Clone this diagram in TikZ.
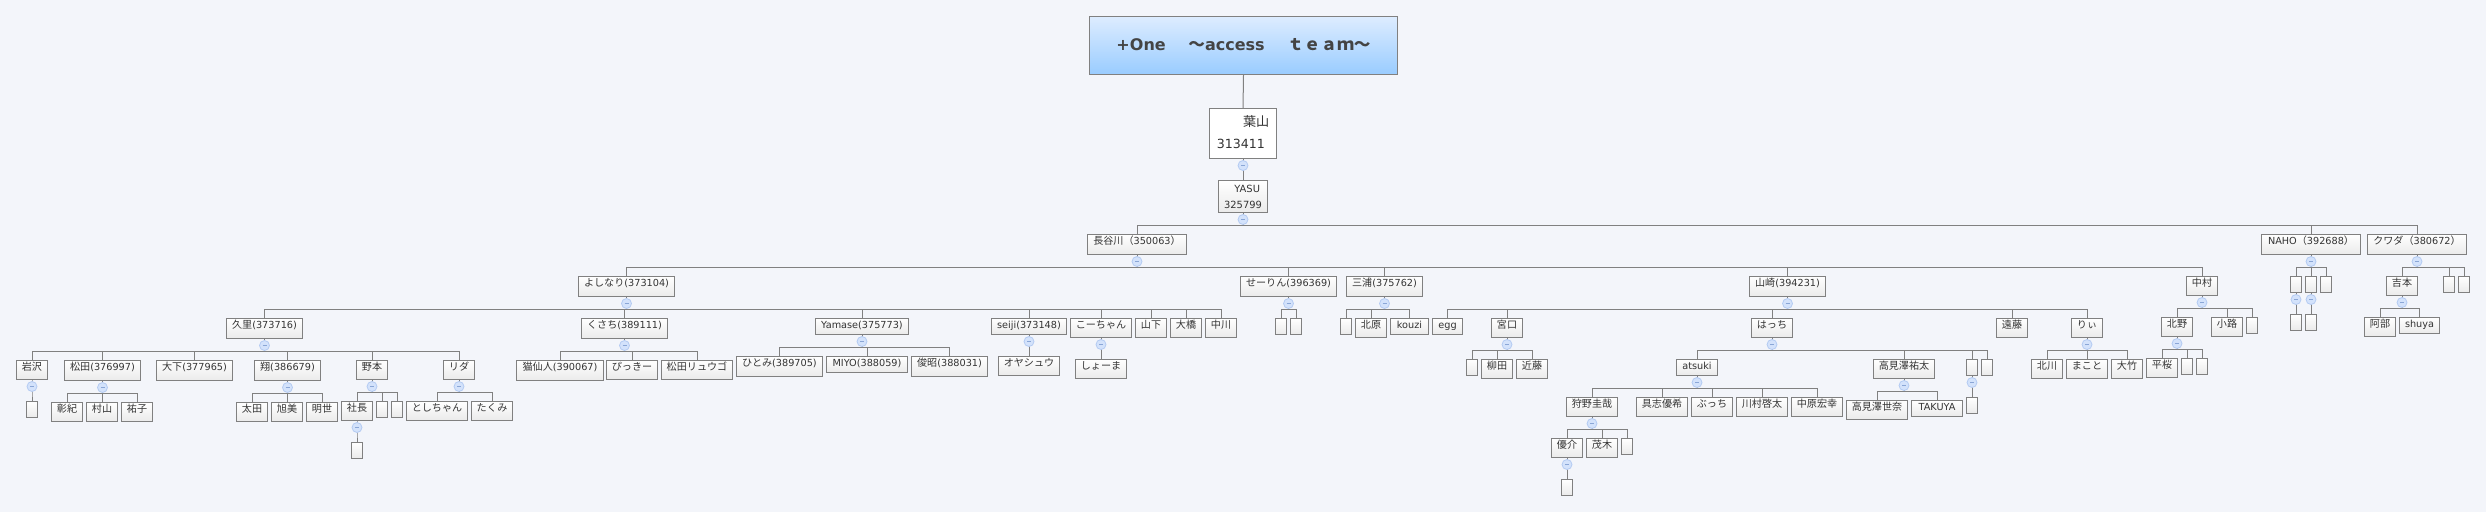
\documentclass[tikz,border=0pt]{standalone}
\usepackage{fontspec}
\setmainfont{DejaVu Sans}
\newfontfamily\cjk[Scale=1.04]{Noto Sans CJK JP}
\newcommand{\J}[1]{{\cjk #1}}
\definecolor{bgc}{HTML}{F3F5FA}
\definecolor{edgec}{HTML}{808080}
\definecolor{txtc}{HTML}{333333}
\definecolor{titlec}{HTML}{444444}
\definecolor{TA}{HTML}{DDECFF}
\definecolor{TB}{HTML}{99CCFF}
\definecolor{E8}{HTML}{EAEAEA}
\definecolor{btnedge}{HTML}{B4CBF2}
\definecolor{btnfill}{HTML}{D3E2FB}
\definecolor{btnbar}{HTML}{8AA6D6}
\tikzset{
  box/.style={draw=edgec,line width=1pt,top color=white,bottom color=E8,inner sep=0pt,outer sep=0pt,text=txtc,font=\fontsize{9.7}{12}\selectfont},
  link/.style={draw=edgec,line width=1pt},
  btn/.style={circle,draw=btnedge,fill=btnfill,line width=.8pt,minimum size=10pt,inner sep=0pt},
}
\newcommand{\nd}[6]{%
  \pgfmathsetmacro\nw{#4-#2}\pgfmathsetmacro\nh{#5-#3}\pgfmathsetmacro\ndp{\nh-10}%
  \node[box,anchor=north west,minimum width=\nw pt,minimum height=\nh pt,text height=10pt,text depth=\ndp pt] (#1) at (#2+.5,#3+.5) {#6};}
\newcommand{\tree}[2]{%
  \foreach \kid in {#2} {\draw[link] (#1.south) |- ([yshift=9pt]\kid.north) -- (\kid.north);}
  \node[btn] (b#1) at ([yshift=-7pt]#1.south) {\textcolor{btnbar}{\rule{4pt}{.8pt}}};}
\begin{document}
\begin{tikzpicture}[x=1pt,y=-1pt]
\useasboundingbox (0,0) rectangle (2486,512);
\fill[bgc] (0,0) rectangle (2486,512);
% title and top
\node[draw=edgec,line width=1pt,top color=TA,bottom color=TB,anchor=north west,minimum width=308pt,minimum height=58pt,inner sep=0pt,outer sep=0pt,text=titlec,font=\fontsize{16}{18}\bfseries\selectfont] (title) at (1089.5,16.5) {\raisebox{3pt}{+One\hspace{6pt}\J{　～}access\hspace{6pt}\J{　ｔｅａｍ～}}};
\node[draw=edgec,line width=1pt,fill=white,anchor=north west,minimum width=67pt,minimum height=50pt,inner sep=0pt,outer sep=0pt,text=txtc,font=\fontsize{12.6}{22}\selectfont] (hayama) at (1209.5,108.5) {\raisebox{1.5pt}{\begin{tabular}{@{}l@{}}\J{　　葉山}\\313411\end{tabular}}};
\node[box,anchor=north west,minimum width=49pt,minimum height=32pt,align=left,font=\fontsize{9.9}{16}\selectfont] (yasu) at (1218.5,180.5) {\J{　}YASU\\325799};
% level 2
\nd{hase}{1087}{234}{1186}{254}{\J{長谷川（}350063\J{）}}
\nd{naho}{2261}{234}{2360}{254}{NAHO\J{（}392688\J{）}}
\nd{kuwada}{2367}{234}{2466}{254}{\J{クワダ（}380672\J{）}}
% level 3
\nd{yoshi}{578}{276}{674}{296}{\J{よしなり}(373104)}
\nd{serin}{1240}{276}{1336}{296}{\J{せーりん}(396369)}
\nd{miura}{1346}{276}{1422}{296}{\J{三浦}(375762)}
\nd{yama}{1749}{276}{1825}{296}{\J{山崎}(394231)}
\nd{naka}{2186}{276}{2217}{295}{\J{中村}}
\nd{na1}{2290}{276}{2301}{292}{}
\nd{na2}{2305}{276}{2316}{292}{}
\nd{na3}{2320}{276}{2331}{292}{}
\nd{yoshimoto}{2386}{276}{2417}{295}{\J{吉本}}
\nd{ku2}{2443}{276}{2454}{292}{}
\nd{ku3}{2458}{276}{2469}{292}{}
% level 4
\nd{kuri}{226}{318}{302}{338}{\J{久里}(373716)}
\nd{kusa}{581}{318}{667}{338}{\J{くさち}(389111)}
\nd{yamase}{815}{318}{908}{334}{Yamase(375773)}
\nd{seiji}{991}{318}{1066}{334}{seiji(373148)}
\nd{kochan}{1070}{318}{1131}{337}{\J{こーちゃん}}
\nd{yamashita}{1135}{318}{1166}{337}{\J{山下}}
\nd{oohashi}{1170}{318}{1201}{337}{\J{大橋}}
\nd{nakagawa}{1205}{318}{1236}{337}{\J{中川}}
\nd{se1}{1275}{318}{1286}{334}{}
\nd{se2}{1290}{318}{1301}{334}{}
\nd{mi1}{1340}{318}{1351}{334}{}
\nd{kitahara}{1355}{318}{1386}{337}{\J{北原}}
\nd{kouzi}{1390}{318}{1428}{334}{kouzi}
\nd{egg}{1432}{318}{1462}{334}{egg}
\nd{miya}{1491}{318}{1522}{337}{\J{宮口}}
\nd{hacchi}{1751}{318}{1792}{337}{\J{はっち}}
\nd{endo}{1996}{318}{2027}{337}{\J{遠藤}}
\nd{rii}{2071}{318}{2102}{337}{\J{りぃ}}
\nd{kitano}{2161}{317}{2192}{336}{\J{北野}}
\nd{koji}{2211}{317}{2242}{336}{\J{小路}}
\nd{nk3}{2246}{317}{2257}{333}{}
\nd{nc1}{2290}{314}{2301}{330}{}
\nd{nc2}{2305}{314}{2316}{330}{}
\nd{abe}{2364}{317}{2395}{336}{\J{阿部}}
\nd{shuya}{2399}{317}{2439}{333}{shuya}
% level 5
\nd{iwa}{16}{360}{47}{379}{\J{岩沢}}
\nd{matsu}{64}{360}{140}{380}{\J{松田}(376997)}
\nd{ooshita}{156}{360}{232}{380}{\J{大下}(377965)}
\nd{sho}{254}{360}{320}{380}{\J{翔}(386679)}
\nd{nomoto}{356}{360}{387}{379}{\J{野本}}
\nd{rida}{443}{360}{474}{379}{\J{リダ}}
\nd{neko}{516}{360}{603}{380}{\J{猫仙人}(390067)}
\nd{picky}{606}{360}{657}{379}{\J{ぴっきー}}
\nd{ryugo}{661}{360}{732}{379}{\J{松田リュウゴ}}
\nd{hitomi}{736}{356}{822}{376}{\J{ひとみ}(389705)}
\nd{miyo}{826}{356}{907}{372}{MIYO(388059)}
\nd{toshi}{911}{356}{987}{376}{\J{俊昭}(388031)}
\nd{oya}{998}{356}{1059}{375}{\J{オヤシュウ}}
\nd{shoma}{1075}{359}{1126}{378}{\J{しょーま}}
\nd{mc1}{1466}{359}{1477}{375}{}
\nd{yanagi}{1481}{359}{1512}{378}{\J{柳田}}
\nd{kondo}{1516}{359}{1547}{378}{\J{近藤}}
\nd{atsuki}{1676}{359}{1717}{375}{atsuki}
\nd{yuta}{1873}{359}{1934}{378}{\J{高見澤祐太}}
\nd{ha3}{1966}{359}{1977}{375}{}
\nd{ha4}{1981}{359}{1992}{375}{}
\nd{kitagawa}{2031}{359}{2062}{378}{\J{北川}}
\nd{makoto}{2066}{359}{2107}{378}{\J{まこと}}
\nd{ootake}{2111}{359}{2142}{378}{\J{大竹}}
\nd{hira}{2146}{358}{2177}{377}{\J{平桜}}
\nd{kn2}{2181}{358}{2192}{374}{}
\nd{kn3}{2196}{358}{2207}{374}{}
% level 6
\nd{iwc}{26}{401}{37}{417}{}
\nd{aki}{51}{402}{82}{421}{\J{彰紀}}
\nd{mura}{86}{402}{117}{421}{\J{村山}}
\nd{yuko}{121}{402}{152}{421}{\J{祐子}}
\nd{oota}{236}{402}{267}{421}{\J{太田}}
\nd{asahi}{271}{402}{302}{421}{\J{旭美}}
\nd{akiyo}{306}{402}{337}{421}{\J{明世}}
\nd{shacho}{341}{401}{372}{420}{\J{社長}}
\nd{no2}{376}{401}{387}{417}{}
\nd{no3}{391}{401}{402}{417}{}
\nd{toshichan}{406}{401}{467}{420}{\J{としちゃん}}
\nd{takumi}{471}{401}{512}{420}{\J{たくみ}}
\nd{kano}{1566}{397}{1617}{416}{\J{狩野圭哉}}
\nd{gushi}{1636}{397}{1687}{416}{\J{具志優希}}
\nd{pucchi}{1691}{397}{1732}{416}{\J{ぶっち}}
\nd{kawa}{1736}{397}{1787}{416}{\J{川村啓太}}
\nd{nakahara}{1791}{397}{1842}{416}{\J{中原宏幸}}
\nd{sena}{1846}{400}{1907}{419}{\J{高見澤世奈}}
\nd{takuya}{1911}{400}{1962}{416}{TAKUYA}
\nd{hc}{1966}{397}{1977}{413}{}
\nd{shc}{351}{442}{362}{458}{}
\nd{yusuke}{1551}{438}{1582}{457}{\J{優介}}
\nd{mogi}{1586}{438}{1617}{457}{\J{茂木}}
\nd{ka3}{1621}{438}{1632}{454}{}
\nd{yuc}{1561}{479}{1572}{495}{}
% connectors
\draw[link] (title.south) -- (hayama.north);
\tree{hayama}{yasu}
\tree{yasu}{hase,naho,kuwada}
\tree{hase}{yoshi,serin,miura,yama,naka}
\tree{naho}{na1,na2,na3}
\tree{kuwada}{yoshimoto,ku2,ku3}
\tree{yoshi}{kuri,kusa,yamase,seiji,kochan,yamashita,oohashi,nakagawa}
\tree{serin}{se1,se2}
\tree{miura}{mi1,kitahara,kouzi}
\tree{yama}{egg,miya,hacchi,endo,rii}
\tree{naka}{kitano,koji,nk3}
\tree{na1}{nc1}
\tree{na2}{nc2}
\tree{yoshimoto}{abe,shuya}
\tree{kuri}{iwa,matsu,ooshita,sho,nomoto,rida}
\tree{kusa}{neko,picky,ryugo}
\tree{yamase}{hitomi,miyo,toshi}
\tree{seiji}{oya}
\tree{kochan}{shoma}
\tree{miya}{mc1,yanagi,kondo}
\tree{hacchi}{atsuki,yuta,ha3,ha4}
\tree{rii}{kitagawa,makoto,ootake}
\tree{kitano}{hira,kn2,kn3}
\tree{iwa}{iwc}
\tree{matsu}{aki,mura,yuko}
\tree{sho}{oota,asahi,akiyo}
\tree{nomoto}{shacho,no2,no3}
\tree{rida}{toshichan,takumi}
\tree{atsuki}{kano,gushi,pucchi,kawa,nakahara}
\tree{yuta}{sena,takuya}
\tree{ha3}{hc}
\tree{shacho}{shc}
\tree{kano}{yusuke,mogi,ka3}
\tree{yusuke}{yuc}
\end{tikzpicture}
\end{document}
